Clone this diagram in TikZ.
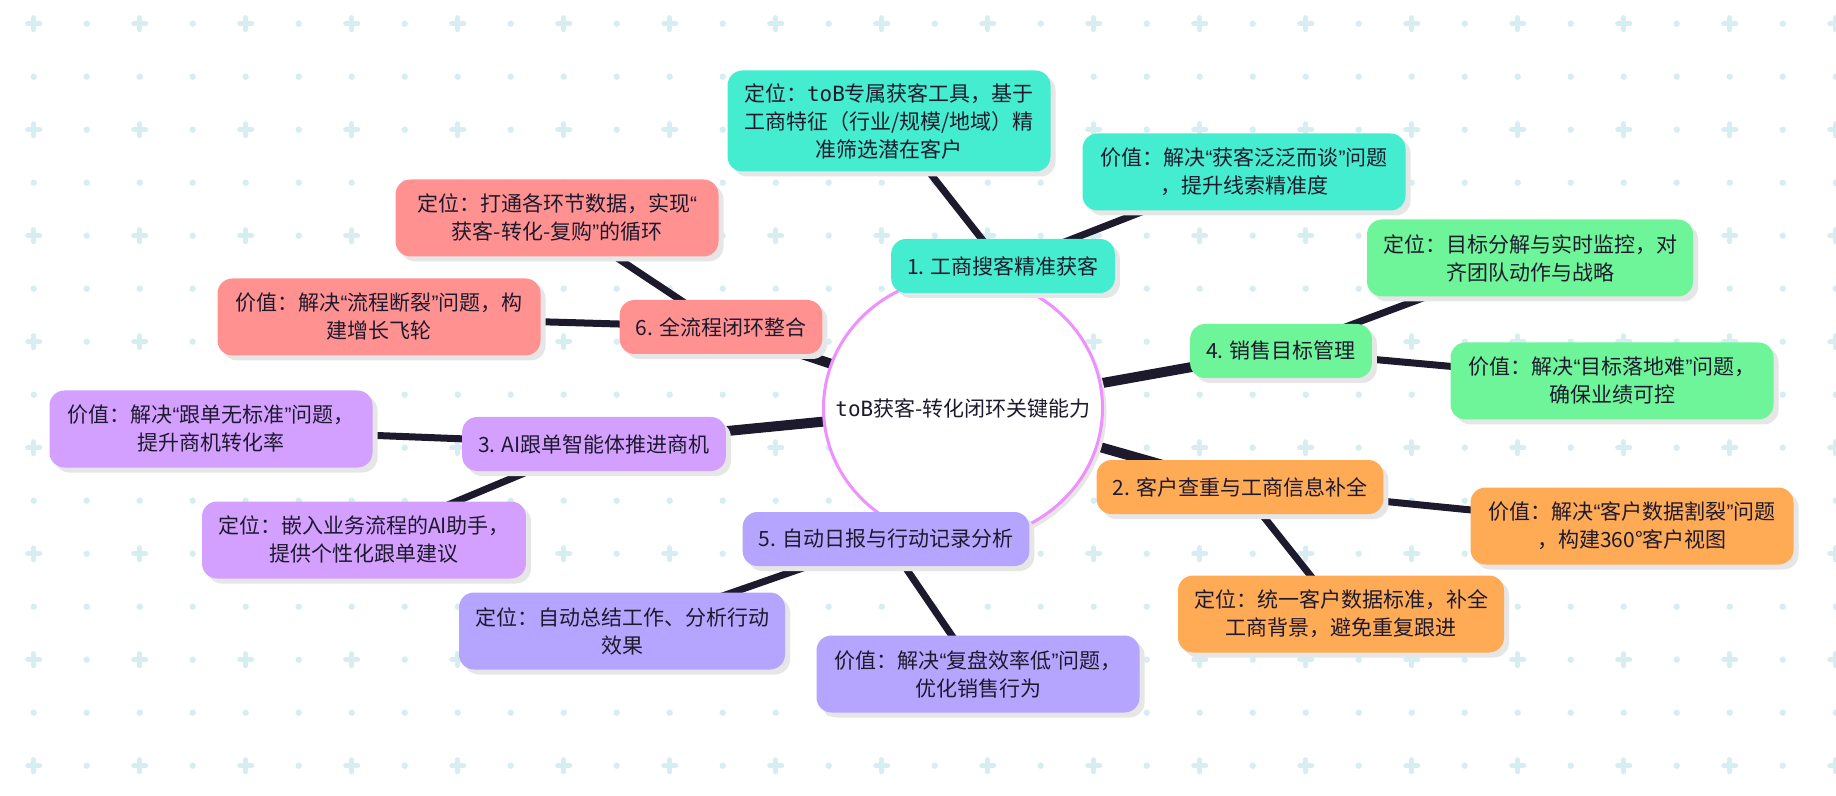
\documentclass[tikz,border=0pt]{standalone}
\usepackage{fontspec}
\setmainfont{Noto Sans CJK SC}
\setmonofont{DejaVu Sans Mono}
\newfontfamily\quotefont{Liberation Sans}
\newcommand{\oq}{{\quotefont “}}
\newcommand{\cq}{{\quotefont ”}}
\usetikzlibrary{shapes.geometric,shadows}

\pgfdeclarelayer{pattern}
\pgfdeclarelayer{edges}
\pgfsetlayers{pattern,edges,main}

\definecolor{ink}{HTML}{1E1A2E}
\definecolor{rim}{HTML}{EE90FF}
\definecolor{dotc}{HTML}{D6EEF2}
\definecolor{shade}{HTML}{E6E6E6}
\definecolor{colA}{HTML}{45EDD0}
\definecolor{colB}{HTML}{FFAA55}
\definecolor{colC}{HTML}{D4A0FF}
\definecolor{colD}{HTML}{6EF59A}
\definecolor{colE}{HTML}{B6A5FF}
\definecolor{colF}{HTML}{FF9191}

\begin{document}
\begin{tikzpicture}[
  x=0.5pt, y=-0.5pt,
  font=\fontsize{10.5}{14}\selectfont, text=ink,
  box/.style={rounded corners=7.5pt, inner xsep=8pt, inner ysep=4pt, align=center,
    drop shadow={shadow xshift=2.5pt, shadow yshift=-2.5pt, fill=shade, opacity=1}},
  branch/.style={box, minimum height=27pt},
  leaf/.style={box, minimum width=161.5pt, minimum height=38.5pt},
  link/.style={draw=ink, line width=5pt},
  sublink/.style={draw=ink, line width=3.5pt}
]
  \useasboundingbox (0,0) rectangle (1836,796);

  % dotted background with a cross on every other point
  \begin{pgfonlayer}{pattern}
    \fill[white] (0,0) rectangle (1836,796);
    \foreach \i in {0,...,34} {
      \foreach \j in {0,...,14} {
        \pgfmathtruncatemacro{\odd}{mod(\i,2)+mod(\j,2)}
        \ifnum\odd=0
          \draw[dotc, line width=2.5pt, line cap=round]
            ({33.7+53*\i-6},{23.7+53*\j}) -- ({33.7+53*\i+6},{23.7+53*\j})
            ({33.7+53*\i},{23.7+53*\j-6}) -- ({33.7+53*\i},{23.7+53*\j+6});
        \else
          \fill[dotc] ({33.7+53*\i},{23.7+53*\j}) circle (1.6pt);
        \fi
      }
    }
  \end{pgfonlayer}

  % central topic
  \node[ellipse, draw=rim, line width=1.5pt, fill=white, minimum width=139.5pt,
    minimum height=132pt, inner sep=0pt,
    drop shadow={shadow xshift=2pt, shadow yshift=-2pt, fill=shade, opacity=1}]
    (root) at (963,408) {};
  \node (roottext) at (root.center) {\texttt{toB}获客-转化闭环关键能力};

  % branches
  \node[branch, fill=colA] (search) at (1003,266) {1. 工商搜客精准获客};
  \node[branch, fill=colD] (target) at (1281,351) {4. 销售目标管理};
  \node[branch, fill=colB] (dedup) at (1240,487) {2. 客户查重与工商信息补全};
  \node[branch, fill=colE] (report) at (886,539) {5. 自动日报与行动记录分析};
  \node[branch, fill=colC] (agent) at (594,444) {3. AI跟单智能体推进商机};
  \node[branch, fill=colF] (loop) at (721,327) {6. 全流程闭环整合};

  % leaves
  \node[leaf, fill=colA, minimum height=50.5pt] (searchpos) at (889,121)
    {定位：\texttt{toB}专属获客工具，基于\\工商特征（行业/规模/地域）精\\准筛选潜在客户};
  \node[leaf, fill=colA] (searchval) at (1244,172) {价值：解决\oq 获客泛泛而谈\cq 问题\\，提升线索精准度};
  \node[leaf, fill=colD] (targetpos) at (1530,258) {定位：目标分解与实时监控，对\\齐团队动作与战略};
  \node[leaf, fill=colD] (targetval) at (1612,381) {价值：解决\oq 目标落地难\cq 问题，\\确保业绩可控};
  \node[leaf, fill=colB] (dedupval) at (1632,526) {价值：解决\oq 客户数据割裂\cq 问题\\，构建360°客户视图};
  \node[leaf, fill=colB] (deduppos) at (1341,614) {定位：统一客户数据标准，补全\\工商背景，避免重复跟进};
  \node[leaf, fill=colE] (reportpos) at (622,631) {定位：自动总结工作、分析行动\\效果};
  \node[leaf, fill=colE] (reportval) at (978,674) {价值：解决\oq 复盘效率低\cq 问题，\\优化销售行为};
  \node[leaf, fill=colC] (agentval) at (211,429) {价值：解决\oq 跟单无标准\cq 问题，\\提升商机转化率};
  \node[leaf, fill=colC] (agentpos) at (364,540) {定位：嵌入业务流程的AI助手，\\提供个性化跟单建议};
  \node[leaf, fill=colF] (looppos) at (557,218) {定位：打通各环节数据，实现\oq\\获客-转化-复购\cq 的循环};
  \node[leaf, fill=colF] (loopval) at (379,317) {价值：解决\oq 流程断裂\cq 问题，构\\建增长飞轮};

  \begin{pgfonlayer}{edges}
    \foreach \b in {search,target,dedup,report,agent,loop} {
      \draw[link] (root.center) -- (\b.center);
    }
    \foreach \b in {search,target,dedup,report,agent,loop} {
      \draw[sublink] (\b.center) -- (\b pos.center);
      \draw[sublink] (\b.center) -- (\b val.center);
    }
  \end{pgfonlayer}
\end{tikzpicture}
\end{document}
